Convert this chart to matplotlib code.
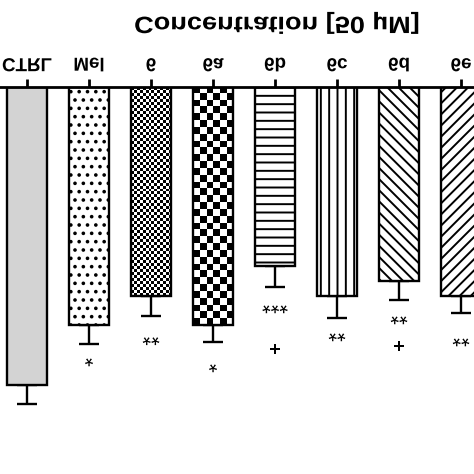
import numpy as np
import matplotlib
matplotlib.use("Agg")
import matplotlib.pyplot as plt
from matplotlib.patheffects import AbstractPathEffect
from matplotlib.transforms import Affine2D

# values (control = 100)
groups = ["CTRL", "Mel", "6", "6a", "6b", "6c", "6d", "6e"]
values = [100, 80, 70, 80, 60, 70, 65, 70]
errors = [6.4, 6.4, 7.0, 5.7, 7.0, 7.4, 6.4, 5.7]
sig_bar = [1, 2, 3, 4, 4, 5, 6, 6, 7]
sig_text = ["*", "**", "*", "***", "+", "**", "**", "+", "**"]
sig_y = [92.3, 85.2, 94.3, 74.5, 87.9, 83.9, 78.2, 86.9, 85.6]
xlabel = "Concentration [50 \u00b5M]"


class FlipV(AbstractPathEffect):
    """draw text upside down (mirrored top to bottom) around its own centre"""
    def __init__(self, sx=1.0):
        super().__init__()
        self.sx = sx

    def draw_path(self, renderer, gc, tpath, affine, rgbFace=None):
        ext = tpath.get_extents(affine)
        cx, cy = (ext.x0 + ext.x1) / 2, (ext.y0 + ext.y1) / 2
        flip = Affine2D().translate(-cx, -cy).scale(self.sx, -1).translate(cx, cy)
        renderer.draw_path(gc, tpath, affine + flip, rgbFace)


plt.rcParams['font.family'] = ['Liberation Sans', 'DejaVu Sans']
plt.rcParams['hatch.linewidth'] = 1.4

fig = plt.figure(figsize=(4.74, 4.74), dpi=100)
top_px = 87
ax = fig.add_axes([0, 0, 1, (474 - top_px) / 474])

x = np.arange(len(groups))
width = 0.66
hatches = [None, "..", None, None, "--", "||", "\\\\\\", "///"]
faces = ["#d3d3d3", "white", "none", "none", "white", "white", "white", "white"]

bars = ax.bar(x, values, width, color=faces, edgecolor="black", linewidth=1.7,
              zorder=3)
for b, h in zip(bars, hatches):
    if h:
        b.set_hatch(h)

ax.errorbar(x, values, yerr=[np.zeros(len(x)), errors], fmt="none",
            ecolor="black", elinewidth=1.7, capsize=7.5, capthick=1.7, zorder=2)

# checkerboard fills for 6 (fine) and 6a (coarse)
px_per_x = 474 / 7.645
px_per_y = 387 / 129.9
for i, cell in [(2, 3.0), (3, 6.8)]:
    nx = max(1, int(round(width * px_per_x / cell)))
    ny = max(1, int(round(values[i] * px_per_y / cell)))
    board = np.indices((ny, nx)).sum(axis=0) % 2
    ax.imshow(board, cmap="gray", interpolation="nearest", aspect="auto",
              extent=(x[i] - width / 2, x[i] + width / 2, values[i], 0),
              zorder=2.5)

for i, t, yy in zip(sig_bar, sig_text, sig_y):
    plus = t == "+"
    ax.annotate(t, (x[i], yy), xytext=(0, -1 if plus else -4.5),
                textcoords="offset points", ha="center", va="center",
                fontsize=15 if plus else 16, path_effects=[FlipV()])

ax.set_xlim(-27 / px_per_x, (474 - 27) / px_per_x)
ax.set_ylim(0, 129.9)
ax.invert_yaxis()

for s in ["left", "right", "bottom"]:
    ax.spines[s].set_visible(False)
ax.spines["top"].set_linewidth(2.0)
ax.spines["top"].set_zorder(5)
ax.set_yticks([])
ax.xaxis.tick_top()
ax.set_xticks(x, groups, fontsize=13.5, fontweight="bold")
ax.tick_params(axis="x", direction="out", length=6, width=2.0, pad=2.5)
for lbl in ax.get_xticklabels():
    lbl.set_path_effects([FlipV()])

ax.xaxis.set_label_position("top")
ax.set_xlabel(xlabel, fontsize=17, fontweight="bold",
              path_effects=[FlipV(1.15)])
ax.xaxis.set_label_coords(277 / 474, 1 + 58 / 387)

fig.savefig("out.png", dpi=100)
